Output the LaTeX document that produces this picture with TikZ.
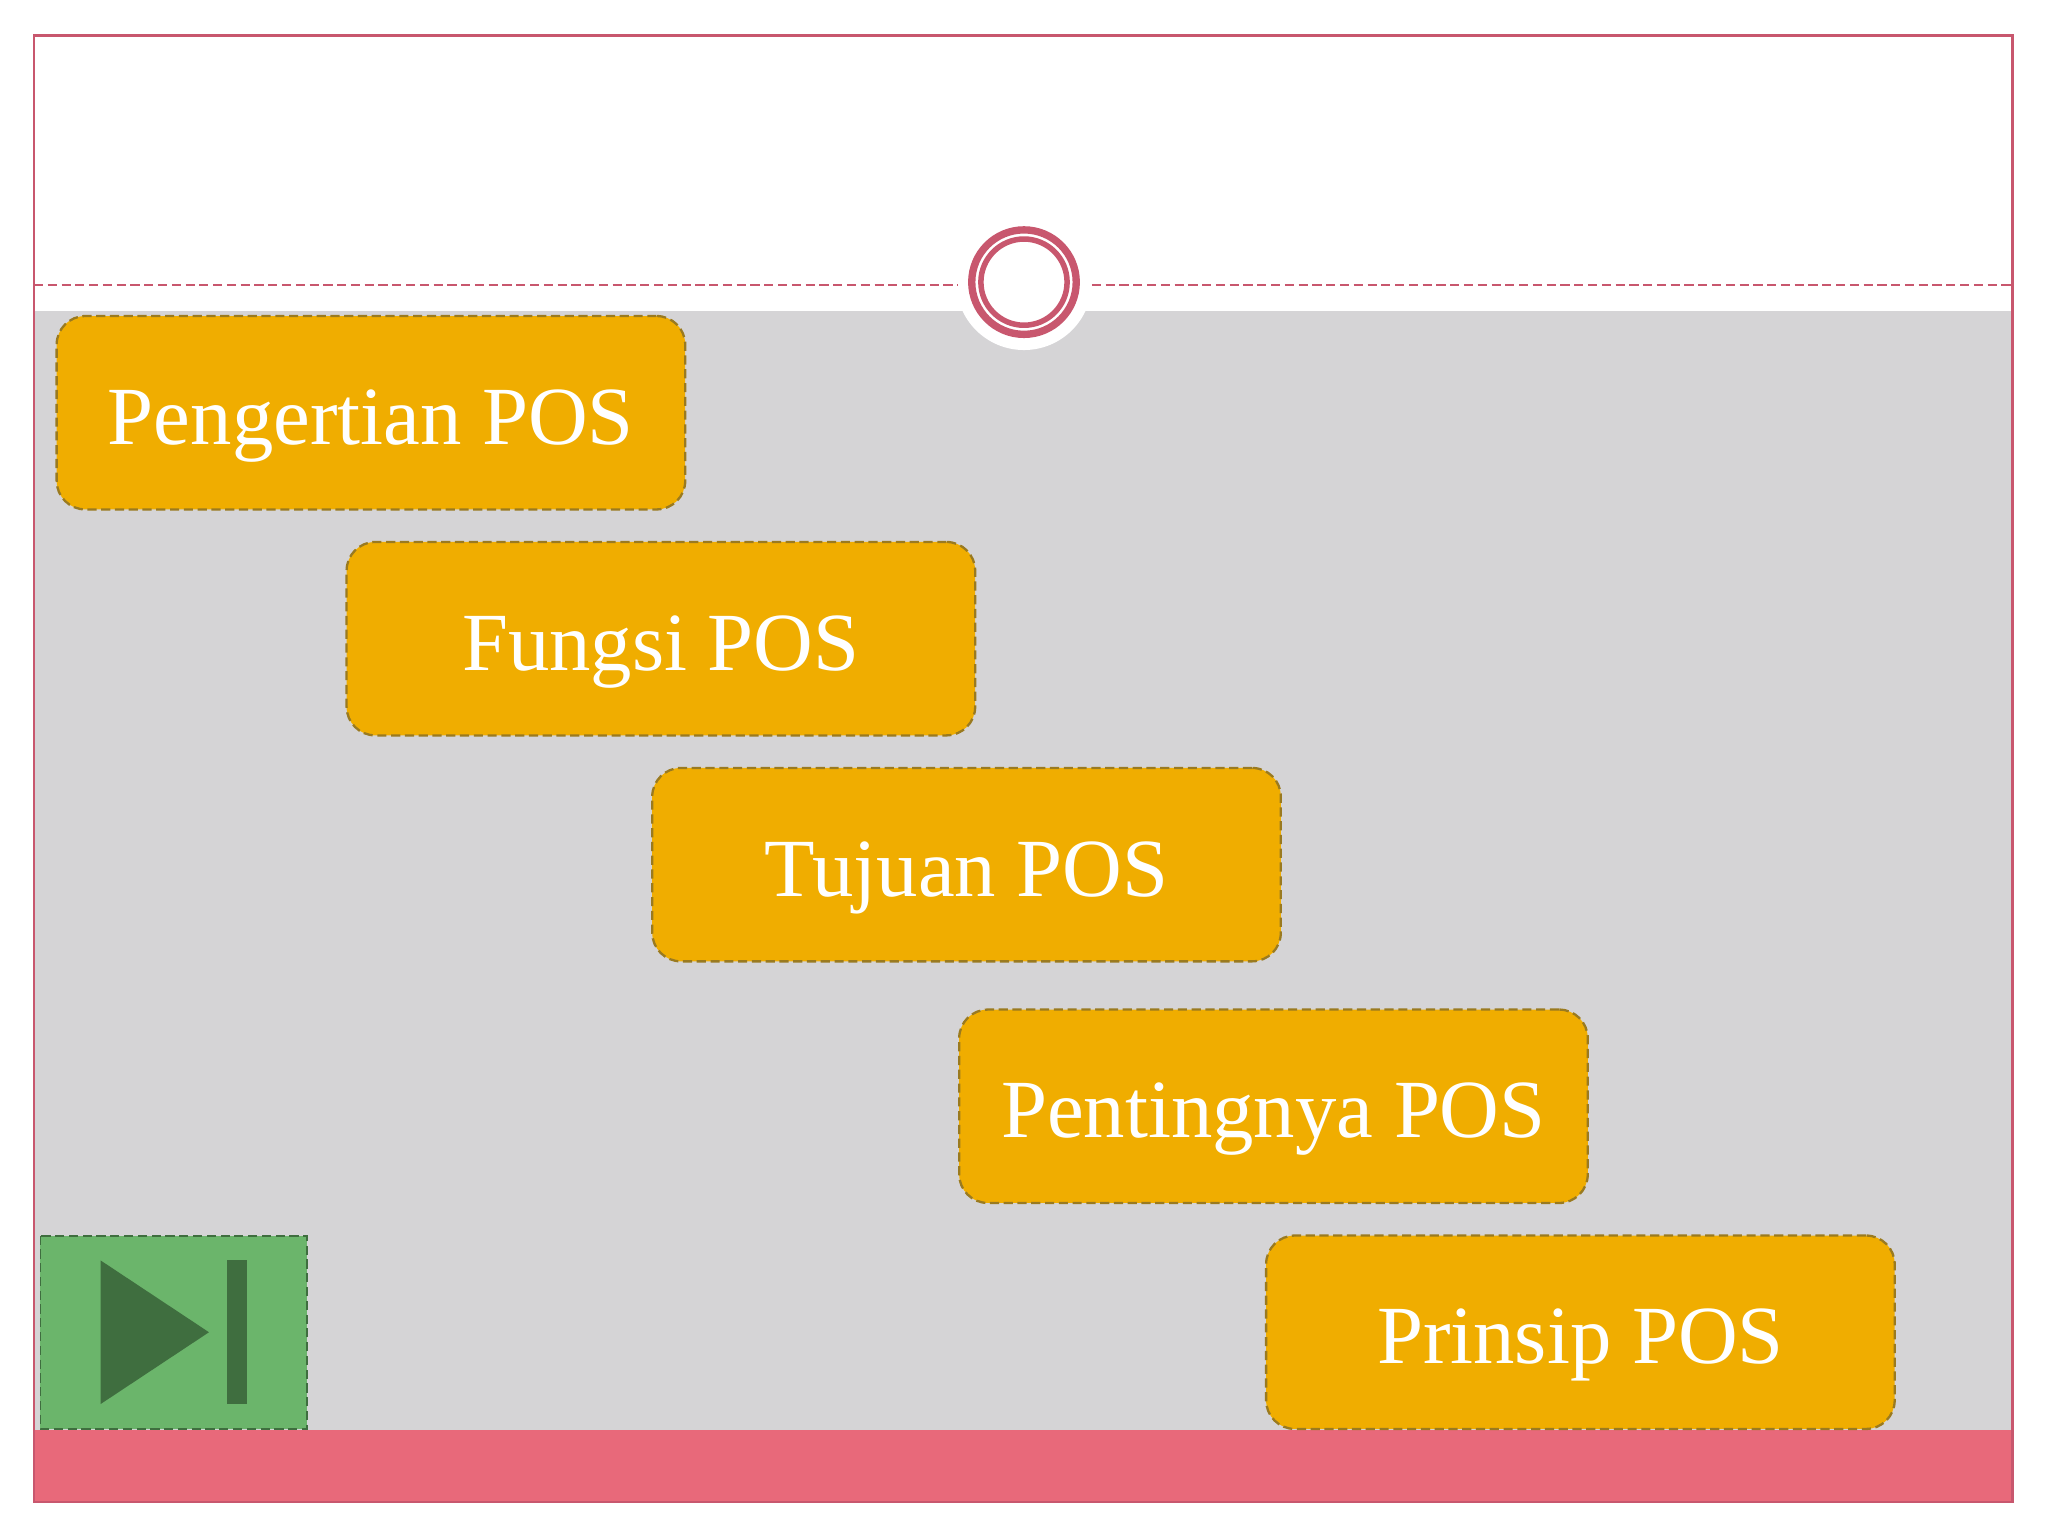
\documentclass[tikz,border=0pt]{standalone}
\usepackage{fontspec}
\setmainfont{Liberation Serif}
\definecolor{pinkline}{HTML}{C8576E}
\definecolor{band}{HTML}{E8697A}
\definecolor{graybg}{HTML}{D5D4D6}
\definecolor{orangebox}{HTML}{F0AD00}
\definecolor{orangeedge}{HTML}{9A7A20}
\definecolor{greenbox}{HTML}{6BB56B}
\definecolor{darkgreen}{HTML}{3F6E3F}
\tikzset{topic/.style={draw=orangeedge,dash pattern=on 2pt off 1pt,line width=0.5pt,fill=orangebox,rounded corners=0.22cm,minimum width=4.81cm,minimum height=1.48cm,inner sep=0pt},
toptext/.style={text=white,font=\fontsize{18}{22}\selectfont}}
\begin{document}
\begin{tikzpicture}[x=0.01cm,y=-0.01cm]
\useasboundingbox (0,0) rectangle (1568,1176);
\fill[white] (0,0) rectangle (1568,1176);
\fill[graybg] (26,238) rectangle (1541,1095);
\fill[band] (26,1095) rectangle (1541,1150);
\draw[pinkline,line width=0.6pt] (26,27) rectangle (1541,1150);
\fill[white] (784,216) circle (52);
\draw[pinkline,dash pattern=on 2pt off 1pt,line width=0.4pt] (26,218) -- (733,218);
\draw[pinkline,dash pattern=on 2pt off 1pt,line width=0.4pt] (836,218) -- (1541,218);
\draw[pinkline,line width=1.6pt] (784,216) circle (40);
\draw[pinkline,line width=1.2pt] (784,216) circle (33);
\node[topic,label={[toptext,yshift=-0.1cm]center:Pengertian POS}] (a) at (284,316) {};
\node[topic,label={[toptext,yshift=-0.1cm]center:Fungsi POS}] (b) at (506,489) {};
\node[topic,label={[toptext,yshift=-0.1cm]center:Tujuan POS}] (c) at (740,662) {};
\node[topic,label={[toptext,yshift=-0.1cm]center:Pentingnya POS}] (d) at (975,847) {};
\node[topic,label={[toptext,yshift=-0.1cm]center:Prinsip POS}] (e) at (1210,1020) {};
\draw[fill=greenbox,draw=darkgreen,dash pattern=on 2pt off 1pt] (31,946) rectangle (235,1094);
\fill[darkgreen] (77,965) -- (77,1075) -- (160,1020) -- cycle;
\fill[darkgreen] (174,965) rectangle (189,1075);
\end{tikzpicture}
\end{document}
